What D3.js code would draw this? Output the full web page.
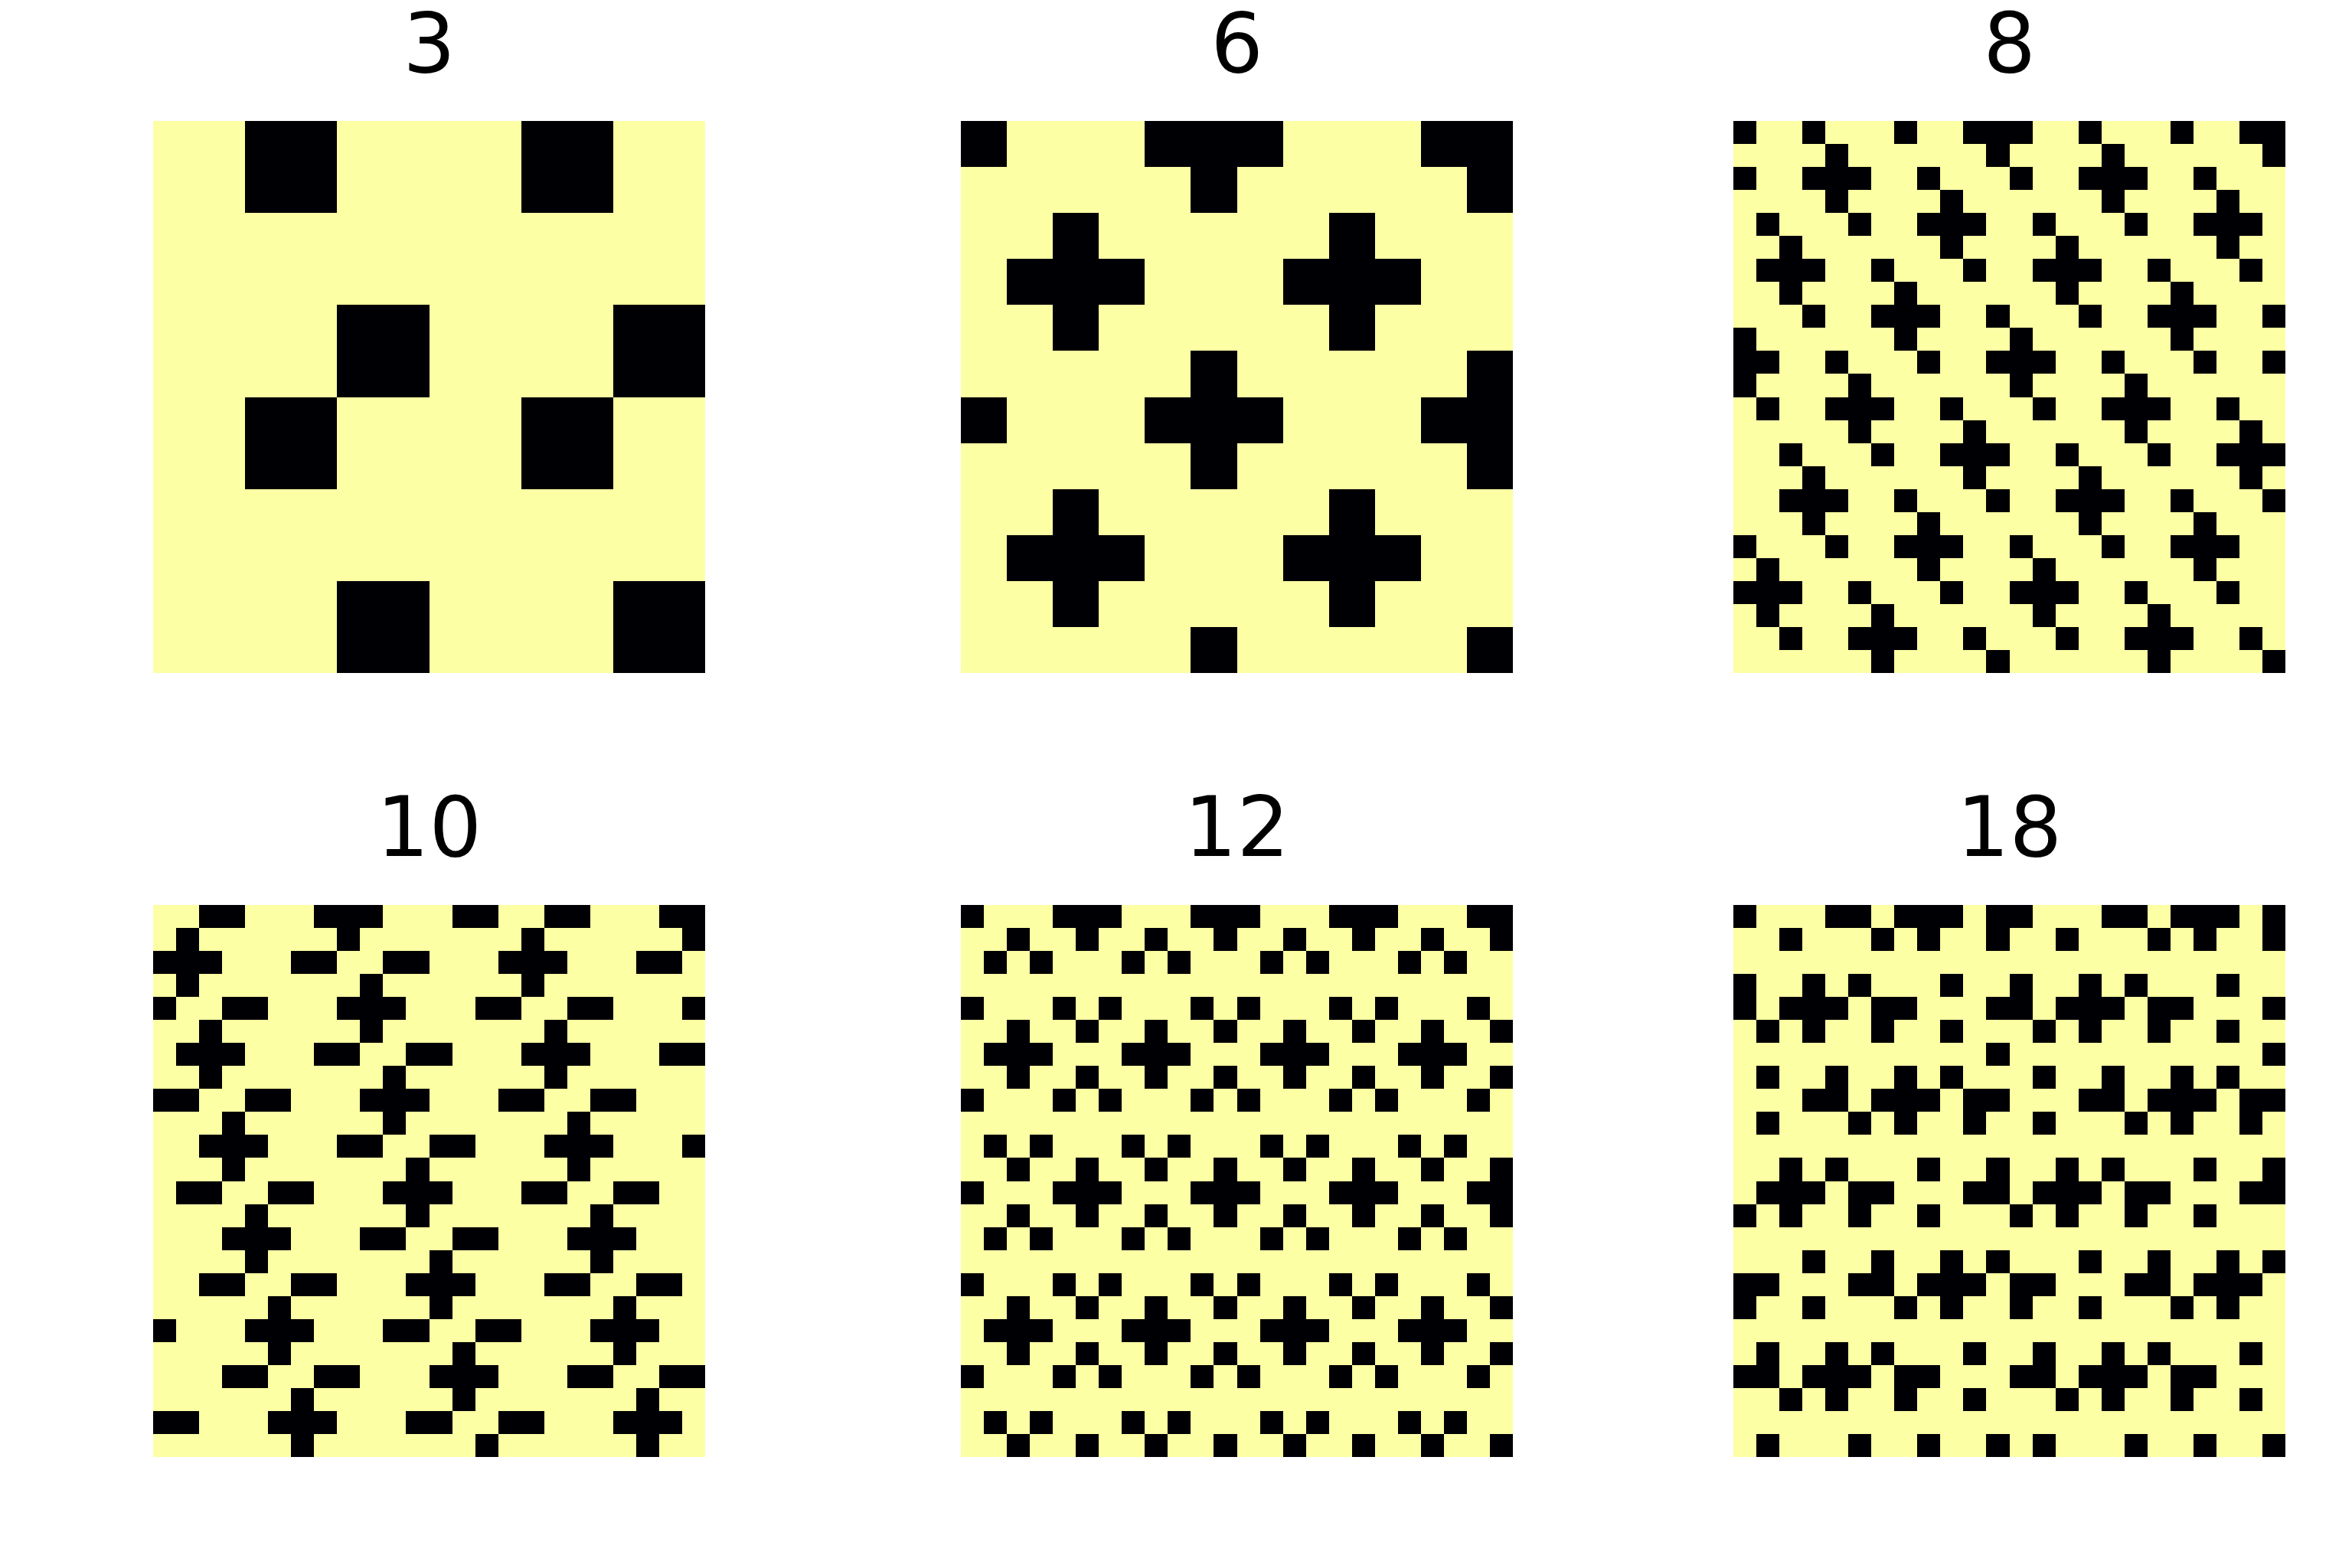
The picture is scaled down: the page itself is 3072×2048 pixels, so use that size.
<!DOCTYPE html>
<html>
<head>
<meta charset="utf-8">
<script src="https://d3js.org/d3.v7.min.js"></script>
<style>
    html, body { margin: 0; padding: 0; background: #fff; }
    svg { display: block; }
</style>
</head>
<body>
<div id="chart"></div>
<script>
// panel titles
const titles = ["3", "6", "8", "10", "12", "18"];

// each grid lists the columns that are on (dark), row by row
const grid3 = [
    [1, 4], [], [2, 5], [1, 4], [], [2, 5]
];
const grid6 = [
    [0, 4, 5, 6, 10, 11], [5, 11], [2, 8], [1, 2, 3, 7, 8, 9],
    [2, 8], [5, 11], [0, 4, 5, 6, 10, 11], [5, 11],
    [2, 8], [1, 2, 3, 7, 8, 9], [2, 8], [5, 11]
];
const grid8 = [
    [0, 3, 7, 10, 11, 12, 15, 19, 22, 23],
    [4, 11, 16, 23],
    [0, 3, 4, 5, 8, 12, 15, 16, 17, 20],
    [4, 9, 16, 21],
    [1, 5, 8, 9, 10, 13, 17, 20, 21, 22],
    [2, 9, 14, 21],
    [1, 2, 3, 6, 10, 13, 14, 15, 18, 22],
    [2, 7, 14, 19],
    [3, 6, 7, 8, 11, 15, 18, 19, 20, 23],
    [0, 7, 12, 19],
    [0, 1, 4, 8, 11, 12, 13, 16, 20, 23],
    [0, 5, 12, 17],
    [1, 4, 5, 6, 9, 13, 16, 17, 18, 21],
    [5, 10, 17, 22],
    [2, 6, 9, 10, 11, 14, 18, 21, 22, 23],
    [3, 10, 15, 22],
    [2, 3, 4, 7, 11, 14, 15, 16, 19, 23],
    [3, 8, 15, 20],
    [0, 4, 7, 8, 9, 12, 16, 19, 20, 21],
    [1, 8, 13, 20],
    [0, 1, 2, 5, 9, 12, 13, 14, 17, 21],
    [1, 6, 13, 18],
    [2, 5, 6, 7, 10, 14, 17, 18, 19, 22],
    [6, 11, 18, 23]
];
const grid10 = [
    [2, 3, 7, 8, 9, 13, 14, 17, 18, 22, 23],
    [1, 8, 16, 23],
    [0, 1, 2, 6, 7, 10, 11, 15, 16, 17, 21, 22],
    [1, 9, 16],
    [0, 3, 4, 8, 9, 10, 14, 15, 18, 19, 23],
    [2, 9, 17],
    [1, 2, 3, 7, 8, 11, 12, 16, 17, 18, 22, 23],
    [2, 10, 17],
    [0, 1, 4, 5, 9, 10, 11, 15, 16, 19, 20],
    [3, 10, 18],
    [2, 3, 4, 8, 9, 12, 13, 17, 18, 19, 23],
    [3, 11, 18],
    [1, 2, 5, 6, 10, 11, 12, 16, 17, 20, 21],
    [4, 11, 19],
    [3, 4, 5, 9, 10, 13, 14, 18, 19, 20],
    [4, 12, 19],
    [2, 3, 6, 7, 11, 12, 13, 17, 18, 21, 22],
    [5, 12, 20],
    [0, 4, 5, 6, 10, 11, 14, 15, 19, 20, 21],
    [5, 13, 20],
    [3, 4, 7, 8, 12, 13, 14, 18, 19, 22, 23],
    [6, 13, 21],
    [0, 1, 5, 6, 7, 11, 12, 15, 16, 20, 21, 22],
    [6, 14, 21]
];
const grid12 = [
    [0, 4, 5, 6, 10, 11, 12, 16, 17, 18, 22, 23],
    [2, 5, 8, 11, 14, 17, 20, 23],
    [1, 3, 7, 9, 13, 15, 19, 21],
    [],
    [0, 4, 6, 10, 12, 16, 18, 22],
    [2, 5, 8, 11, 14, 17, 20, 23],
    [1, 2, 3, 7, 8, 9, 13, 14, 15, 19, 20, 21],
    [2, 5, 8, 11, 14, 17, 20, 23],
    [0, 4, 6, 10, 12, 16, 18, 22],
    [],
    [1, 3, 7, 9, 13, 15, 19, 21],
    [2, 5, 8, 11, 14, 17, 20, 23],
    [0, 4, 5, 6, 10, 11, 12, 16, 17, 18, 22, 23],
    [2, 5, 8, 11, 14, 17, 20, 23],
    [1, 3, 7, 9, 13, 15, 19, 21],
    [],
    [0, 4, 6, 10, 12, 16, 18, 22],
    [2, 5, 8, 11, 14, 17, 20, 23],
    [1, 2, 3, 7, 8, 9, 13, 14, 15, 19, 20, 21],
    [2, 5, 8, 11, 14, 17, 20, 23],
    [0, 4, 6, 10, 12, 16, 18, 22],
    [],
    [1, 3, 7, 9, 13, 15, 19, 21],
    [2, 5, 8, 11, 14, 17, 20, 23]
];
const grid18 = [
    [0, 4, 5, 7, 8, 9, 11, 12, 16, 17, 19, 20, 21, 23],
    [2, 6, 8, 11, 14, 18, 20, 23],
    [],
    [0, 3, 5, 9, 12, 15, 17, 21],
    [0, 2, 3, 4, 6, 7, 11, 12, 14, 15, 16, 18, 19, 23],
    [1, 3, 6, 9, 13, 15, 18, 21],
    [11, 23],
    [1, 4, 7, 9, 13, 16, 19, 21],
    [3, 4, 6, 7, 8, 10, 11, 15, 16, 18, 19, 20, 22, 23],
    [1, 5, 7, 10, 13, 17, 19, 22],
    [],
    [2, 4, 8, 11, 14, 16, 20, 23],
    [1, 2, 3, 5, 6, 10, 11, 13, 14, 15, 17, 18, 22, 23],
    [0, 2, 5, 8, 12, 14, 17, 20],
    [],
    [3, 6, 9, 11, 15, 18, 21, 23],
    [0, 1, 5, 6, 8, 9, 10, 12, 13, 17, 18, 20, 21, 22],
    [0, 3, 7, 9, 12, 15, 19, 21],
    [],
    [1, 4, 6, 10, 13, 16, 18, 22],
    [0, 1, 3, 4, 5, 7, 8, 12, 13, 15, 16, 17, 19, 20],
    [2, 4, 7, 10, 14, 16, 19, 22],
    [],
    [1, 5, 8, 11, 13, 17, 20, 23]
];
const grids = [grid3, grid6, grid8, grid10, grid12, grid18];

// set the svg up
let svgWidth = 3072;
let svgHeight = 2048;
let panelSize = 721;
// columns are not evenly spaced in the original
let panelLeft = [200, 1255, 2264];
let panelTop = [158, 1182];
let titleGap = 64;

let svg = d3.select("#chart")
    .append("svg")
    .attr("width", svgWidth)
    .attr("height", svgHeight);

svg.append("rect")
    .attr("width", svgWidth)
    .attr("height", svgHeight)
    .attr("fill", "#fff");

// off = 0, on = 1
let colorScale = d3.scaleSequential(d3.interpolateInferno).domain([1, 0]);

grids.forEach((grid, i) => {
    let left = panelLeft[i % 3];
    let top = panelTop[Math.floor(i / 3)];
    let size = grid.length;

    let xBand = d3.scaleBand().domain(d3.range(size)).range([0, panelSize]);
    let yBand = d3.scaleBand().domain(d3.range(size)).range([0, panelSize]);

    let panel = svg.append("g")
        .attr("transform", `translate(${left},${top})`);

    // one value per cell
    let cells = d3.cross(d3.range(size), d3.range(size), (row, col) => ({
        row: row,
        col: col,
        value: grid[row].includes(col) ? 1 : 0
    }));

    panel.selectAll("rect")
        .data(cells)
        .enter()
        .append("rect")
        .attr("x", d => xBand(d.col))
        .attr("y", d => yBand(d.row))
        .attr("width", xBand.bandwidth())
        .attr("height", yBand.bandwidth())
        .attr("fill", d => colorScale(d.value))
        .attr("shape-rendering", "crispEdges");

    panel.append("text")
        .attr("x", panelSize / 2)
        .attr("y", -titleGap)
        .attr("text-anchor", "middle")
        .attr("font-family", "DejaVu Sans")
        .attr("font-size", 108)
        .attr("fill", "#000")
        .text(titles[i]);
});
</script>
</body>
</html>
